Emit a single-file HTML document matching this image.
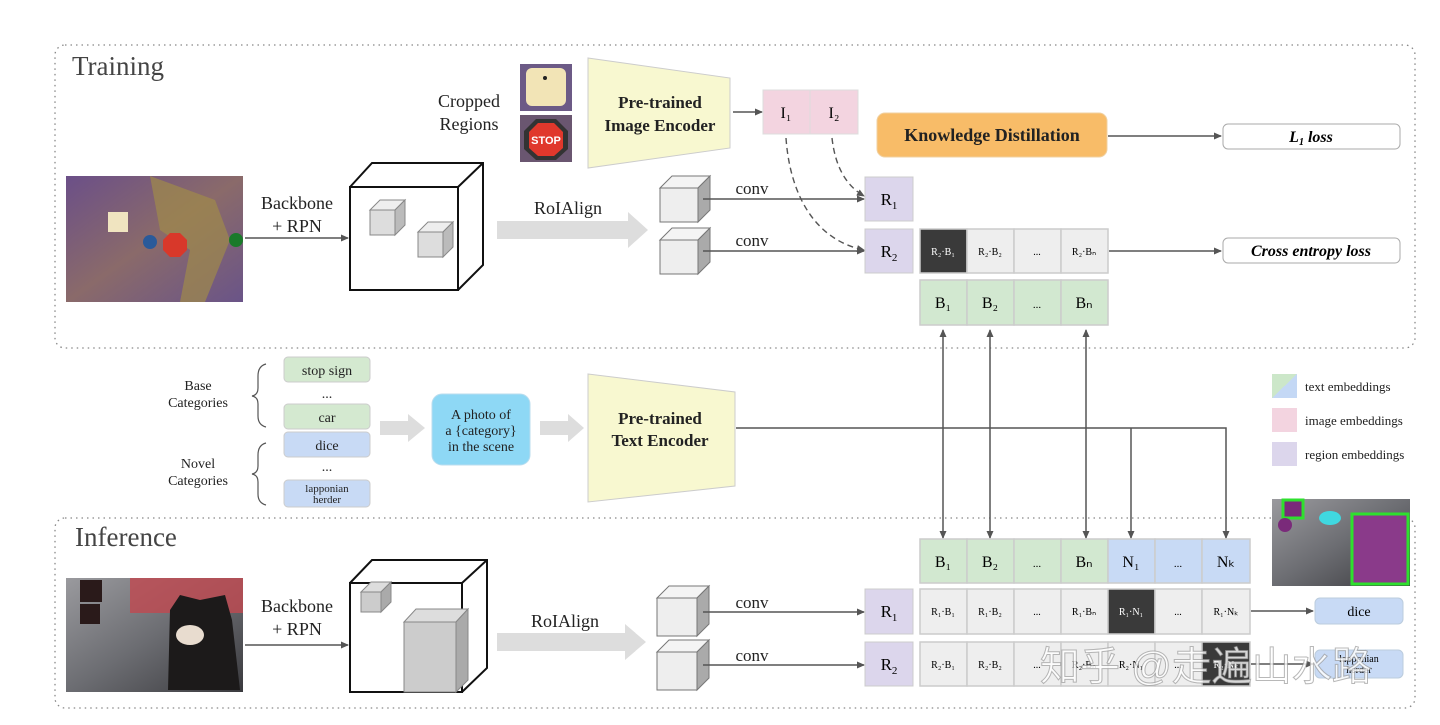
<!DOCTYPE html>
<html><head><meta charset="utf-8"><style>
html,body{margin:0;padding:0;background:#fff;}
svg{display:block;font-family:"Liberation Serif",serif;}
</style></head><body>
<svg width="1440" height="725" viewBox="0 0 1440 725" xmlns="http://www.w3.org/2000/svg">
<defs>
<marker id="ah" markerWidth="8" markerHeight="8" refX="7" refY="4" orient="auto" markerUnits="userSpaceOnUse"><path d="M0,0.5 L8,4 L0,7.5 z" fill="#555"/></marker>
<marker id="as" markerWidth="8" markerHeight="8" refX="1" refY="4" orient="auto" markerUnits="userSpaceOnUse"><path d="M8,0.5 L0,4 L8,7.5 z" fill="#555"/></marker>
<linearGradient id="map" x1="0" y1="0" x2="1" y2="1"><stop offset="0" stop-color="#6b4f88"/><stop offset="0.5" stop-color="#8a6a6a"/><stop offset="1" stop-color="#6a5488"/></linearGradient>
<linearGradient id="car" x1="0" y1="0" x2="1" y2="1"><stop offset="0" stop-color="#9a9a9e"/><stop offset="0.5" stop-color="#6c6d72"/><stop offset="1" stop-color="#3a3a3e"/></linearGradient>
<linearGradient id="te" x1="0" y1="0" x2="1" y2="1"><stop offset="0.5" stop-color="#cce7c9"/><stop offset="0.5" stop-color="#c4d8f5"/></linearGradient>
</defs>

<!-- dotted frames -->
<rect x="55" y="45" width="1360" height="303" rx="10" fill="none" stroke="#888" stroke-width="1.3" stroke-dasharray="1.5 4"/>
<rect x="55" y="518" width="1360" height="190" rx="10" fill="none" stroke="#888" stroke-width="1.3" stroke-dasharray="1.5 4"/>
<text x="72" y="75" font-size="27" fill="#444">Training</text>
<text x="75" y="546" font-size="27" fill="#444">Inference</text>

<!-- training image -->
<rect x="66" y="176" width="177" height="126" fill="url(#map)"/>
<path d="M150,176 L215,200 L230,240 L205,302 L180,302 L190,250 L160,230 Z" fill="#a08a4a" opacity="0.7"/>
<rect x="108" y="212" width="20" height="20" fill="#f0e4c0"/>
<circle cx="150" cy="242" r="7" fill="#2a5a9a"/>
<polygon points="170,233 180,233 187,240 187,250 180,257 170,257 163,250 163,240" fill="#d8382a"/>
<circle cx="236" cy="240" r="7" fill="#1a7a2a"/>
<!-- cropped -->
<text x="469" y="107" font-size="18" text-anchor="middle" fill="#222">Cropped</text>
<text x="469" y="130" font-size="18" text-anchor="middle" fill="#222">Regions</text>
<rect x="520" y="64" width="52" height="47" fill="#6c5a86"/>
<rect x="526" y="68" width="40" height="38" rx="6" fill="#f2e4b6"/>
<circle cx="545" cy="78" r="2" fill="#222"/>
<rect x="520" y="115" width="52" height="47" fill="#6a5670"/>
<polygon points="536,119 556,119 568,131 568,149 556,160 536,160 524,149 524,131" fill="#333"/>
<polygon points="538,123 554,123 563,132 563,148 554,156 538,156 529,148 529,132" fill="#e0382c"/>
<text x="546" y="144" font-size="11" font-family="Liberation Sans,sans-serif" font-weight="bold" fill="#fff" text-anchor="middle">STOP</text>

<!-- backbone training -->
<text x="297" y="209" font-size="18" text-anchor="middle" fill="#222">Backbone</text>
<text x="297" y="232" font-size="18" text-anchor="middle" fill="#222">+ RPN</text>
<line x1="245" y1="238" x2="348" y2="238" stroke="#555" stroke-width="1.5" marker-end="url(#ah)"/>
<g stroke="#111" stroke-width="2" fill="none">
<rect x="350" y="187" width="108" height="103" fill="#fff"/>
<polyline points="350,187 372,163 483,163 483,265 458,290"/>
<line x1="458" y1="187" x2="483" y2="163"/>
</g>
<g stroke="#888" stroke-width="1" >
<rect x="370" y="210" width="25" height="25" fill="#ddd"/><polygon points="370,210 380,200 405,200 395,210" fill="#eee"/><polygon points="395,210 405,200 405,225 395,235" fill="#bbb"/>
<rect x="418" y="232" width="25" height="25" fill="#ddd"/><polygon points="418,232 428,222 453,222 443,232" fill="#eee"/><polygon points="443,232 453,222 453,247 443,257" fill="#bbb"/>
</g>
<!-- RoIAlign training -->
<text x="568" y="214" font-size="18" text-anchor="middle" fill="#222">RoIAlign</text>
<polygon points="497,221 628,221 628,212 648,230 628,248 628,239 497,239" fill="#ddd"/>

<!-- small cubes training -->
<g stroke="#777" stroke-width="1">
<rect x="660" y="188" width="38" height="34" fill="#eee"/><polygon points="660,188 672,176 710,176 698,188" fill="#f4f4f4"/><polygon points="698,188 710,176 710,210 698,222" fill="#aaa"/>
<rect x="660" y="240" width="38" height="34" fill="#eee"/><polygon points="660,240 672,228 710,228 698,240" fill="#f4f4f4"/><polygon points="698,240 710,228 710,262 698,274" fill="#aaa"/>
</g>
<text x="752" y="194" font-size="17" text-anchor="middle" fill="#222">conv</text>
<text x="752" y="246" font-size="17" text-anchor="middle" fill="#222">conv</text>
<line x1="703" y1="199" x2="864" y2="199" stroke="#555" stroke-width="1.5" marker-end="url(#ah)"/>
<line x1="703" y1="251" x2="864" y2="251" stroke="#555" stroke-width="1.5" marker-end="url(#ah)"/>

<!-- image encoder -->
<polygon points="588,58 730,78 730,148 588,168" fill="#f8f8d0" stroke="#ccc"/>
<text x="660" y="108" font-size="17" font-weight="bold" text-anchor="middle" fill="#222">Pre-trained</text>
<text x="660" y="131" font-size="17" font-weight="bold" text-anchor="middle" fill="#222">Image Encoder</text>
<line x1="733" y1="112" x2="762" y2="112" stroke="#555" stroke-width="1.5" marker-end="url(#ah)"/>
<rect x="763" y="90" width="47" height="44" fill="#f3d4e0" stroke="#ddd"/>
<rect x="810" y="90" width="48" height="44" fill="#f3d4e0" stroke="#ddd"/>
<text x="786" y="118" font-size="16" text-anchor="middle">I₁</text>
<text x="834" y="118" font-size="16" text-anchor="middle">I₂</text>
<path d="M832,138 C835,165 845,185 864,196" fill="none" stroke="#555" stroke-width="1.4" stroke-dasharray="6 4" marker-end="url(#ah)"/>
<path d="M786,138 C790,195 815,240 864,250" fill="none" stroke="#555" stroke-width="1.4" stroke-dasharray="6 4" marker-end="url(#ah)"/>

<!-- R boxes training -->
<rect x="865" y="177" width="48" height="44" fill="#dcd6ec" stroke="#ccc"/>
<rect x="865" y="229" width="48" height="44" fill="#dcd6ec" stroke="#ccc"/>
<text x="889" y="205" font-size="17" text-anchor="middle">R<tspan font-size="11" dy="4">1</tspan></text>
<text x="889" y="257" font-size="17" text-anchor="middle">R<tspan font-size="11" dy="4">2</tspan></text>

<!-- KD -->
<rect x="877" y="113" width="230" height="44" rx="8" fill="#f8bc68" stroke="#f0d0a0"/>
<text x="992" y="141" font-size="18" font-weight="bold" text-anchor="middle" fill="#222">Knowledge Distillation</text>
<line x1="1108" y1="136" x2="1221" y2="136" stroke="#555" stroke-width="1.5" marker-end="url(#ah)"/>
<rect x="1223" y="124" width="177" height="25" rx="5" fill="#fff" stroke="#aaa"/>
<text x="1311" y="142" font-size="16" font-weight="bold" font-style="italic" text-anchor="middle">L<tspan font-size="10" dy="3">1</tspan><tspan dy="-3"> loss</tspan></text>

<!-- R2 row training -->
<g stroke="#ccc" stroke-width="1.5">
<rect x="920" y="229" width="47" height="44" fill="#3a3a3a"/>
<rect x="967" y="229" width="47" height="44" fill="#eee"/>
<rect x="1014" y="229" width="47" height="44" fill="#eee"/>
<rect x="1061" y="229" width="47" height="44" fill="#eee"/>
<rect x="920" y="280" width="47" height="45" fill="#d2e8d0"/>
<rect x="967" y="280" width="47" height="45" fill="#d2e8d0"/>
<rect x="1014" y="280" width="47" height="45" fill="#d2e8d0"/>
<rect x="1061" y="280" width="47" height="45" fill="#d2e8d0"/>
</g>
<g font-size="10" text-anchor="middle">
<text x="943" y="255" fill="#fff">R₂·B₁</text><text x="990" y="255">R₂·B₂</text><text x="1037" y="255">...</text><text x="1084" y="255">R₂·Bₙ</text>
</g>
<g font-size="16" text-anchor="middle">
<text x="943" y="308">B₁</text><text x="990" y="308">B₂</text><text x="1037" y="308" font-size="11">...</text><text x="1084" y="308">Bₙ</text>
</g>
<line x1="1109" y1="251" x2="1221" y2="251" stroke="#555" stroke-width="1.5" marker-end="url(#ah)"/>
<rect x="1223" y="238" width="177" height="25" rx="5" fill="#fff" stroke="#aaa"/>
<text x="1311" y="256" font-size="16" font-weight="bold" font-style="italic" text-anchor="middle">Cross entropy loss</text>

<!-- categories -->
<text x="198" y="390" font-size="14" text-anchor="middle" fill="#222">Base</text>
<text x="198" y="407" font-size="14" text-anchor="middle" fill="#222">Categories</text>
<text x="198" y="468" font-size="14" text-anchor="middle" fill="#222">Novel</text>
<text x="198" y="485" font-size="14" text-anchor="middle" fill="#222">Categories</text>
<path d="M266,364 Q258,366 258,376 L258,388 Q258,395 252,396 Q258,397 258,404 L258,416 Q258,425 266,427" fill="none" stroke="#555" stroke-width="1.2"/>
<path d="M266,443 Q258,445 258,455 L258,466 Q258,473 252,474 Q258,475 258,482 L258,494 Q258,503 266,505" fill="none" stroke="#555" stroke-width="1.2"/>
<g stroke="#ccc" stroke-width="1">
<rect x="284" y="357" width="86" height="25" rx="4" fill="#d4e9d0"/>
<rect x="284" y="404" width="86" height="25" rx="4" fill="#d4e9d0"/>
<rect x="284" y="432" width="86" height="25" rx="4" fill="#c8daf5"/>
<rect x="284" y="480" width="86" height="27" rx="4" fill="#c8daf5"/>
</g>
<g text-anchor="middle" fill="#222">
<text x="327" y="375" font-size="14">stop sign</text>
<text x="327" y="398" font-size="14">...</text>
<text x="327" y="422" font-size="14">car</text>
<text x="327" y="450" font-size="14">dice</text>
<text x="327" y="471" font-size="14">...</text>
<text x="327" y="492" font-size="11">lapponian</text>
<text x="327" y="503" font-size="11">herder</text>
</g>
<polygon points="380,421 408,421 408,414 425,428 408,442 408,435 380,435" fill="#ddd"/>
<rect x="432" y="394" width="98" height="71" rx="10" fill="#8ed8f5" stroke="#bde"/>
<g text-anchor="middle" font-size="14" fill="#222">
<text x="481" y="419">A photo of</text><text x="481" y="435">a {category}</text><text x="481" y="451">in the scene</text>
</g>
<polygon points="540,421 568,421 568,414 584,428 568,442 568,435 540,435" fill="#ddd"/>
<polygon points="588,374 735,392 735,486 588,502" fill="#f8f8d0" stroke="#ccc"/>
<text x="660" y="424" font-size="17" font-weight="bold" text-anchor="middle" fill="#222">Pre-trained</text>
<text x="660" y="446" font-size="17" font-weight="bold" text-anchor="middle" fill="#222">Text Encoder</text>
<polyline points="736,428 1226,428 1226,538" fill="none" stroke="#555" stroke-width="1.5" marker-end="url(#ah)"/>
<line x1="1131" y1="428" x2="1131" y2="538" stroke="#555" stroke-width="1.5" marker-end="url(#ah)"/>
<g stroke="#555" stroke-width="1.5">
<line x1="943" y1="330" x2="943" y2="538" marker-start="url(#as)" marker-end="url(#ah)"/>
<line x1="990" y1="330" x2="990" y2="538" marker-start="url(#as)" marker-end="url(#ah)"/>
<line x1="1086" y1="330" x2="1086" y2="538" marker-start="url(#as)" marker-end="url(#ah)"/>
</g>

<!-- legend -->
<rect x="1272" y="374" width="25" height="24" fill="url(#te)"/>
<rect x="1272" y="408" width="25" height="24" fill="#f3d4e0"/>
<rect x="1272" y="442" width="25" height="24" fill="#dcd6ec"/>
<g font-size="13" fill="#222">
<text x="1305" y="391">text embeddings</text>
<text x="1305" y="425">image embeddings</text>
<text x="1305" y="459">region embeddings</text>
</g>
<!-- detection image -->
<rect x="1272" y="499" width="138" height="87" fill="url(#car)"/>
<rect x="1352" y="514" width="56" height="70" fill="#8a3a8a" stroke="#2ee02e" stroke-width="3"/>
<rect x="1283" y="500" width="20" height="18" fill="#7a2a7a" stroke="#2ee02e" stroke-width="3"/>
<ellipse cx="1330" cy="518" rx="11" ry="7" fill="#40d8e0"/>
<circle cx="1285" cy="525" r="7" fill="#7a2a7a"/>

<!-- inference image -->
<rect x="66" y="578" width="177" height="114" fill="url(#car)"/>
<rect x="130" y="578" width="113" height="35" fill="#c04850" opacity="0.8"/>
<path d="M168,690 L170,610 L180,595 L200,600 L225,595 L232,620 L240,690 Z" fill="#1c1a1a"/>
<ellipse cx="190" cy="635" rx="14" ry="10" fill="#e8dccf"/>
<rect x="80" y="580" width="22" height="22" fill="#2a1a1a"/>
<rect x="80" y="604" width="20" height="20" fill="#2a1a1a"/>

<!-- inference backbone -->
<text x="297" y="612" font-size="18" text-anchor="middle" fill="#222">Backbone</text>
<text x="297" y="635" font-size="18" text-anchor="middle" fill="#222">+ RPN</text>
<line x1="245" y1="645" x2="348" y2="645" stroke="#555" stroke-width="1.5" marker-end="url(#ah)"/>
<g stroke="#111" stroke-width="2" fill="none">
<rect x="350" y="583" width="112" height="109" fill="#fff"/>
<polyline points="350,583 372,560 487,560 487,668 462,692"/>
<line x1="462" y1="583" x2="487" y2="560"/>
</g>
<g stroke="#888" stroke-width="1">
<rect x="361" y="592" width="20" height="20" fill="#ccc"/><polygon points="361,592 371,582 391,582 381,592" fill="#ddd"/><polygon points="381,592 391,582 391,602 381,612" fill="#aaa"/>
<rect x="404" y="622" width="52" height="70" fill="#ccc"/><polygon points="404,622 416,609 468,609 456,622" fill="#ddd"/><polygon points="456,622 468,609 468,680 456,692" fill="#aaa"/>
</g>
<text x="565" y="627" font-size="18" text-anchor="middle" fill="#222">RoIAlign</text>
<polygon points="497,633 625,633 625,624 646,642 625,660 625,651 497,651" fill="#ddd"/>
<g stroke="#777" stroke-width="1">
<rect x="657" y="598" width="40" height="38" fill="#eee"/><polygon points="657,598 669,586 709,586 697,598" fill="#f4f4f4"/><polygon points="697,598 709,586 709,624 697,636" fill="#aaa"/>
<rect x="657" y="652" width="40" height="38" fill="#eee"/><polygon points="657,652 669,640 709,640 697,652" fill="#f4f4f4"/><polygon points="697,652 709,640 709,678 697,690" fill="#aaa"/>
</g>
<text x="752" y="608" font-size="17" text-anchor="middle" fill="#222">conv</text>
<text x="752" y="661" font-size="17" text-anchor="middle" fill="#222">conv</text>
<line x1="703" y1="612" x2="864" y2="612" stroke="#555" stroke-width="1.5" marker-end="url(#ah)"/>
<line x1="703" y1="665" x2="864" y2="665" stroke="#555" stroke-width="1.5" marker-end="url(#ah)"/>
<rect x="865" y="589" width="48" height="45" fill="#dcd6ec" stroke="#ccc"/>
<rect x="865" y="642" width="48" height="44" fill="#dcd6ec" stroke="#ccc"/>
<text x="889" y="617" font-size="17" text-anchor="middle">R<tspan font-size="11" dy="4">1</tspan></text>
<text x="889" y="670" font-size="17" text-anchor="middle">R<tspan font-size="11" dy="4">2</tspan></text>

<!-- inference grid -->
<g stroke="#ccc" stroke-width="1.5">
<rect x="920" y="539" width="47" height="44" fill="#d2e8d0"/><rect x="967" y="539" width="47" height="44" fill="#d2e8d0"/><rect x="1014" y="539" width="47" height="44" fill="#d2e8d0"/><rect x="1061" y="539" width="47" height="44" fill="#d2e8d0"/>
<rect x="1108" y="539" width="47" height="44" fill="#c8daf5"/><rect x="1155" y="539" width="47" height="44" fill="#c8daf5"/><rect x="1202" y="539" width="48" height="44" fill="#c8daf5"/>
<rect x="920" y="589" width="47" height="45" fill="#eee"/><rect x="967" y="589" width="47" height="45" fill="#eee"/><rect x="1014" y="589" width="47" height="45" fill="#eee"/><rect x="1061" y="589" width="47" height="45" fill="#eee"/>
<rect x="1108" y="589" width="47" height="45" fill="#3a3a3a"/><rect x="1155" y="589" width="47" height="45" fill="#eee"/><rect x="1202" y="589" width="48" height="45" fill="#eee"/>
<rect x="920" y="642" width="47" height="44" fill="#eee"/><rect x="967" y="642" width="47" height="44" fill="#eee"/><rect x="1014" y="642" width="47" height="44" fill="#eee"/><rect x="1061" y="642" width="47" height="44" fill="#eee"/>
<rect x="1108" y="642" width="47" height="44" fill="#eee"/><rect x="1155" y="642" width="47" height="44" fill="#eee"/><rect x="1202" y="642" width="48" height="44" fill="#3a3a3a"/>
</g>
<g font-size="16" text-anchor="middle">
<text x="943" y="567">B₁</text><text x="990" y="567">B₂</text><text x="1037" y="567" font-size="11">...</text><text x="1084" y="567">Bₙ</text>
<text x="1131" y="567">N₁</text><text x="1178" y="567" font-size="11">...</text><text x="1226" y="567">Nₖ</text>
</g>
<g font-size="10" text-anchor="middle">
<text x="943" y="615">R₁·B₁</text><text x="990" y="615">R₁·B₂</text><text x="1037" y="615">...</text><text x="1084" y="615">R₁·Bₙ</text><text x="1131" y="615" fill="#fff">R₁·N₁</text><text x="1178" y="615">...</text><text x="1226" y="615">R₁·Nₖ</text>
<text x="943" y="668">R₂·B₁</text><text x="990" y="668">R₂·B₂</text><text x="1037" y="668">...</text><text x="1084" y="668">R₂·Bₙ</text><text x="1131" y="668">R₂·N₁</text><text x="1178" y="668">...</text><text x="1226" y="668" fill="#fff">R₂·Nₖ</text>
</g>
<line x1="1251" y1="611" x2="1313" y2="611" stroke="#555" stroke-width="1.5" marker-end="url(#ah)"/>
<line x1="1251" y1="664" x2="1313" y2="664" stroke="#555" stroke-width="1.5" marker-end="url(#ah)"/>
<rect x="1315" y="598" width="88" height="26" rx="5" fill="#c8daf5" stroke="#bcd"/>
<text x="1359" y="616" font-size="14" text-anchor="middle">dice</text>
<rect x="1315" y="650" width="88" height="28" rx="5" fill="#c8daf5" stroke="#bcd"/>
<text x="1359" y="662" font-size="10" text-anchor="middle">lapponian</text>
<text x="1359" y="673" font-size="10" text-anchor="middle">herder</text>

<!-- watermark -->
<text x="1040" y="680" font-size="40" font-family="Liberation Sans,'Noto Sans CJK SC',sans-serif" fill="#fff" fill-opacity="0.8" stroke="#888" stroke-width="1" stroke-opacity="0.6">知乎 @走遍山水路</text>
</svg>
</body></html>
